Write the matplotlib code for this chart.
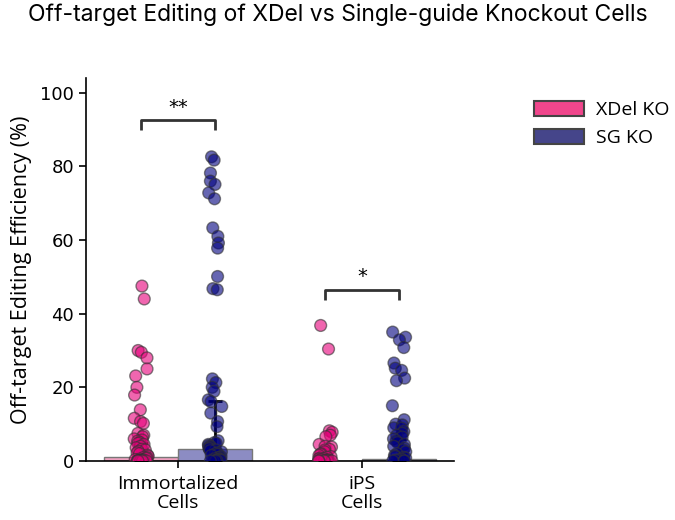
import numpy as np
import matplotlib.pyplot as plt
import seaborn as sns
import pandas as pd
from matplotlib.patches import Patch

# values
cell_types = ["Immortalized\nCells", "iPS\nCells"]
groups = ["XDel KO", "SG KO"]

imm_xdel = [47.5, 44.0, 30.0, 29.5, 28.0, 25.0, 23.1, 20.0, 17.9, 13.9, 11.6, 10.7, 10.2,
            7.5, 7.0, 6.6, 6.0, 5.7, 5.4, 5.0, 4.8, 4.5, 4.0, 3.6, 3.2, 3.0, 2.6, 2.2, 2.0,
            1.6, 1.3, 1.0, 0.9, 0.7, 0.5, 0.4, 0.3, 0.2, 0.1, 0.0, 0.0, 0.0, 0.0, 0.0,
            0.0, 0.0, 0.0, 0.0]
imm_sg = [82.6, 81.7, 78.2, 76.0, 75.1, 72.8, 71.2, 63.3, 61.0, 59.2, 57.8, 50.1, 46.8, 46.5,
          22.3, 21.3, 20.0, 18.9, 16.6, 16.1, 14.8, 13.0, 10.7, 9.3,
          5.5, 5.0, 4.8, 4.5, 4.2, 4.0, 3.8, 3.5, 3.3, 3.0, 2.8, 2.5, 2.2, 2.0, 1.8, 1.5,
          1.2, 1.0, 0.8, 0.6, 0.5, 0.4, 0.3, 0.2, 0.1, 0.0, 0.0, 0.0]
ips_xdel = [36.8, 30.4, 8.2, 7.8, 7.0, 6.6, 4.5, 4.0, 3.8, 3.2, 3.0, 2.5, 2.0, 1.8, 1.5,
            1.2, 1.0, 0.8, 0.6, 0.5, 0.4, 0.3, 0.2, 0.1, 0.0, 0.0, 0.0, 0.0, 0.0, 0.0]
ips_sg = [35.0, 33.6, 32.9, 30.8, 26.6, 25.2, 24.6, 22.5, 21.8, 15.0, 11.2, 10.0, 9.8, 9.0,
          8.9, 8.0, 7.5, 7.0, 6.5, 6.0, 5.5, 5.0, 4.5, 4.0, 3.5, 3.0, 2.5, 2.0, 1.5, 1.2,
          1.0, 0.8, 0.5, 0.3, 0.2, 0.0, 0.0, 0.0]

# bar heights (median) and upper whisker
bar_xdel = [1.0, 0.1]
bar_sg = [3.3, 0.6]
err_top_xdel = [5.0, 2.0]
err_top_sg = [16.4, 6.0]

# significance brackets: (y, label)
sig = [(92.5, "**"), (46.5, "*")]

point_colors = {"XDel KO": "#e6007a", "SG KO": "#000080"}
bar_colors = {"XDel KO": "#eea0bf", "SG KO": "#8c8cc3"}
legend_colors = {"XDel KO": "#f0468c", "SG KO": "#45458a"}

rows = []
for ct, xd, sg in zip(cell_types, [imm_xdel, ips_xdel], [imm_sg, ips_sg]):
    rows += [(ct, "XDel KO", v) for v in xd]
    rows += [(ct, "SG KO", v) for v in sg]
df = pd.DataFrame(rows, columns=["cell", "group", "eff"])

fig = plt.figure(figsize=(6.75, 5.2), dpi=100)
ax = fig.add_axes([0.1274, 0.1135, 0.5452, 0.7365])

x = np.arange(len(cell_types))
w = 0.4
ax.bar(x - w / 2, bar_xdel, width=w, color=bar_colors["XDel KO"], edgecolor="#777777",
       linewidth=1, zorder=1)
ax.bar(x + w / 2, bar_sg, width=w, color=bar_colors["SG KO"], edgecolor="#777777",
       linewidth=1, zorder=1)
for off, b, top in [(-w / 2, bar_xdel, err_top_xdel), (w / 2, bar_sg, err_top_sg)]:
    b = np.array(b)
    top = np.array(top)
    ax.errorbar(x + off, b, yerr=[b, top - b], fmt="none", ecolor="black",
                elinewidth=2, capsize=5, capthick=2, zorder=2)

np.random.seed(3)
sns.stripplot(data=df, x="cell", y="eff", hue="group", hue_order=groups, dodge=True,
              jitter=0.08, palette=point_colors, alpha=0.6, size=8.5, linewidth=1,
              edgecolor="#333333", ax=ax, legend=False, zorder=3)

for i, (yb, lab) in enumerate(sig):
    x0, x1 = i - w / 2, i + w / 2
    ax.plot([x0, x0, x1, x1], [yb - 2.7, yb, yb, yb - 2.7], color="#333333", lw=2,
            solid_capstyle="butt", zorder=4)
    ax.text(i, yb + 1.0, lab, ha="center", va="bottom", fontsize=14, color="black")

ax.set_xlim(-0.5, 1.5)
ax.set_ylim(0, 104)
ax.set_yticks([0, 20, 40, 60, 80, 100])
ax.set_xticks(x)
ax.set_xticklabels(cell_types, fontsize=14, family="Open Sans", linespacing=1.1)
ax.tick_params(axis="y", labelsize=13, width=1.2, length=5)
ax.tick_params(axis="x", width=1.2, length=5, pad=5)
ax.set_xlabel("")
ax.set_ylabel("Off-target Editing Efficiency (%)", fontsize=15.5, family="Open Sans",
              labelpad=6)
ax.spines["top"].set_visible(False)
ax.spines["right"].set_visible(False)
ax.spines["left"].set_linewidth(1.2)
ax.spines["bottom"].set_linewidth(1.2)

handles = [Patch(facecolor=legend_colors[g], edgecolor="#444444", linewidth=1.5, label=g)
           for g in groups]
fig.legend(handles=handles, loc="upper left", bbox_to_anchor=(0.765, 0.84), frameon=False,
           handlelength=2.6, handleheight=0.85, handletextpad=0.6,
           prop={"family": "Open Sans", "size": 14})

fig.text(0.5, 1 - 15 / 520, "Off-target Editing of XDel vs Single-guide Knockout Cells",
         ha="center", va="center", fontsize=16.5, family="Inter")

fig.savefig("out.png", dpi=100)
